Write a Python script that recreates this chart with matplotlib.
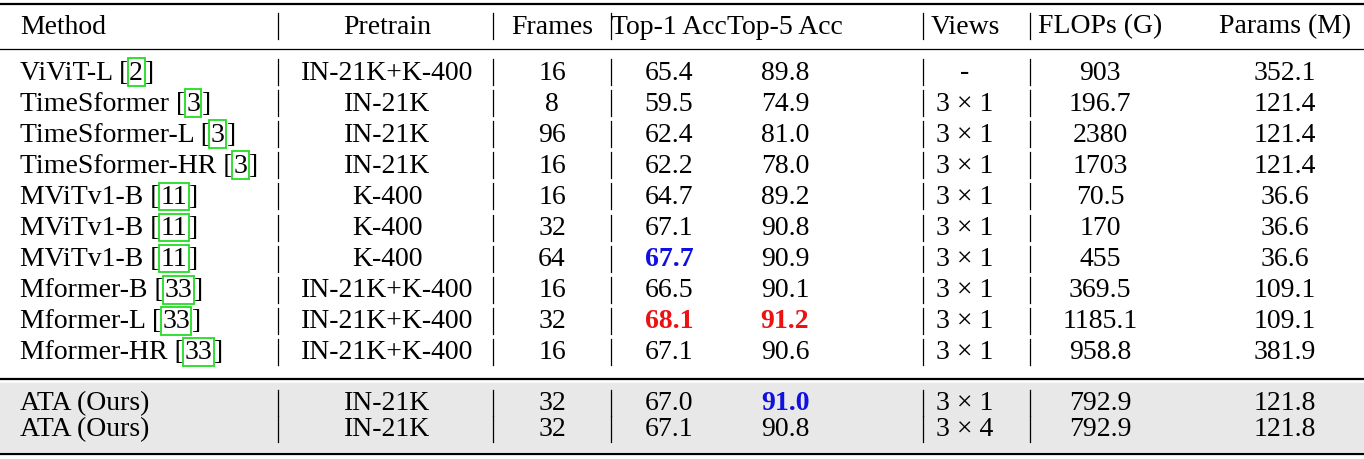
import matplotlib.pyplot as plt
from matplotlib.patches import Rectangle

plt.rcParams['font.family'] = ['Liberation Serif', 'DejaVu Serif']

headers = ["Method", "Pretrain", "Frames", "Top-1 Acc", "Top-5 Acc", "Views", "FLOPs (G)", "Params (M)"]
methods = ["ViViT-L", "TimeSformer", "TimeSformer-L", "TimeSformer-HR", "MViTv1-B", "MViTv1-B",
           "MViTv1-B", "Mformer-B", "Mformer-L", "Mformer-HR", "ATA (Ours)", "ATA (Ours)"]
refs = ["2", "3", "3", "3", "11", "11", "11", "33", "33", "33", None, None]
pretrain = ["IN-21K+K-400", "IN-21K", "IN-21K", "IN-21K", "K-400", "K-400", "K-400",
            "IN-21K+K-400", "IN-21K+K-400", "IN-21K+K-400", "IN-21K", "IN-21K"]
frames = ["16", "8", "96", "16", "16", "32", "64", "16", "32", "16", "32", "32"]
top1 = ["65.4", "59.5", "62.4", "62.2", "64.7", "67.1", "67.7", "66.5", "68.1", "67.1", "67.0", "67.1"]
top5 = ["89.8", "74.9", "81.0", "78.0", "89.2", "90.8", "90.9", "90.1", "91.2", "90.6", "91.0", "90.8"]
views = ["-", "3 × 1", "3 × 1", "3 × 1", "3 × 1", "3 × 1", "3 × 1", "3 × 1", "3 × 1", "3 × 1", "3 × 1", "3 × 4"]
flops = ["903", "196.7", "2380", "1703", "70.5", "170", "455", "369.5", "1185.1", "958.8", "792.9", "792.9"]
params = ["352.1", "121.4", "121.4", "121.4", "36.6", "36.6", "36.6", "109.1", "109.1", "381.9", "121.8", "121.8"]
# (row, col) -> colour of bold highlight
highlight = {(6, 3): "#1010e0", (8, 3): "#ee1111", (8, 4): "#ee1111", (10, 4): "#1010e0"}

W, H = 1364, 460
fig = plt.figure(figsize=(W / 100, H / 100), dpi=100)
ax = fig.add_axes([0, 0, 1, 1])
ax.set_xlim(0, W)
ax.set_ylim(H, 0)
ax.axis("off")

fs = 20
col_x = [20, 387, 552, 669, 785, 965, 1100, 1285]
vlines = [278, 493, 611, 923, 1030]
header_y = 27
row_y = [73 + 31.1 * i for i in range(10)] + [404, 430]

# grey band for our rows
ax.add_patch(Rectangle((0, 384), W, 68, color="#e8e8e8", zorder=0))

# horizontal rules
ax.plot([0, W], [5, 5], color="k", lw=1.6)
ax.plot([0, W], [50, 50], color="k", lw=0.9)
ax.plot([0, W], [380, 380], color="k", lw=1.6)
ax.plot([0, W], [455, 455], color="k", lw=1.6)

# vertical separators
for x in vlines:
    for y in [header_y] + row_y:
        ax.plot([x, x], [y - 13, y + 13], color="k", lw=0.9)

for j, h in enumerate(headers):
    ax.text(col_x[j], header_y, h, fontsize=fs, va="center", ha="left" if j == 0 else "center")

fig.canvas.draw()
renderer = fig.canvas.get_renderer()
inv = ax.transData.inverted()


def text_right(t):
    bb = t.get_window_extent(renderer)
    return inv.transform((bb.x1, bb.y0))[0]


cols = [pretrain, frames, top1, top5, views, flops, params]
for i, y in enumerate(row_y):
    t = ax.text(col_x[0], y, methods[i] + (" [" if refs[i] else ""), fontsize=fs, va="center")
    if refs[i]:
        x = text_right(t)
        t2 = ax.text(x + 1, y, refs[i], fontsize=fs, va="center",
                     bbox=dict(boxstyle="square,pad=0.05", fc="none", ec="#22dd22", lw=1.3))
        x2 = text_right(t2)
        ax.text(x2 + 1, y, "]", fontsize=fs, va="center")
    for j, c in enumerate(cols, start=1):
        color = highlight.get((i, j))
        ax.text(col_x[j], y, c[i], fontsize=fs, va="center", ha="center",
                color=color or "k", fontweight="bold" if color else "normal")

fig.savefig("out.png", dpi=100)
